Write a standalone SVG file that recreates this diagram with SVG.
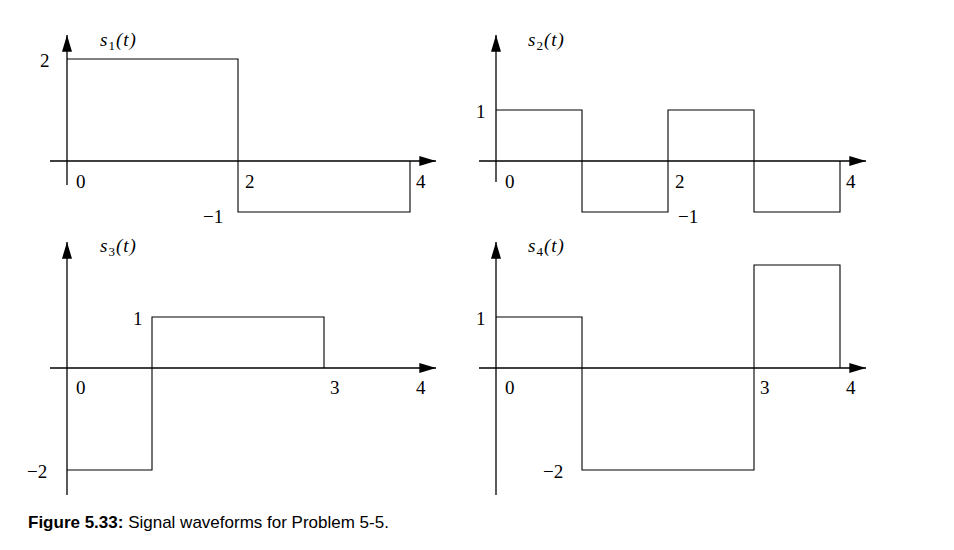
<svg xmlns="http://www.w3.org/2000/svg" width="954" height="550" viewBox="0 0 954 550">
<defs><marker id="ar" viewBox="0 0 10 6" refX="10" refY="3" markerWidth="22" markerHeight="10" markerUnits="userSpaceOnUse" orient="auto"><path d="M0,0 L10,3 L0,6 Z" fill="#000"/></marker></defs>
<style>
.ax{stroke:#000;stroke-width:1.3;fill:none}
.w{stroke:#000;stroke-width:1.1;fill:none}
text{font-family:"Liberation Serif",serif;font-size:19px;fill:#000}
.it{font-style:italic;letter-spacing:1px}
.sub{font-style:normal;font-size:13px}
.cap{font-family:"Liberation Sans",sans-serif;font-size:17px}
</style>
<rect width="954" height="550" fill="#fff"/>
<g id="connectors">
<line class="ax" x1="67" y1="185" x2="67" y2="35" marker-end="url(#ar)"/>
<line class="ax" x1="50" y1="161" x2="436" y2="161" marker-end="url(#ar)"/>
<line class="ax" x1="496" y1="182" x2="496" y2="35" marker-end="url(#ar)"/>
<line class="ax" x1="479" y1="161" x2="866" y2="161" marker-end="url(#ar)"/>
<line class="ax" x1="67" y1="495" x2="67" y2="242" marker-end="url(#ar)"/>
<line class="ax" x1="50" y1="368" x2="436" y2="368" marker-end="url(#ar)"/>
<line class="ax" x1="496" y1="495" x2="496" y2="242" marker-end="url(#ar)"/>
<line class="ax" x1="479" y1="368" x2="866" y2="368" marker-end="url(#ar)"/>
</g>
<g id="s1"><polyline class="w" points="67,59 238,59 238,212 410,212 410,161"/>
<text class="it" x="100" y="46">s<tspan class="sub" dy="4">1</tspan><tspan dy="-4">(t)</tspan></text>
<text x="40" y="67">2</text><text x="76" y="188">0</text><text x="245" y="188">2</text><text x="416" y="188">4</text><text x="203" y="223">−1</text></g>
<g id="s2"><polyline class="w" points="496,110 582,110 582,212 668,212 668,110 754,110 754,212 840,212 840,161"/>
<text class="it" x="528" y="46">s<tspan class="sub" dy="4">2</tspan><tspan dy="-4">(t)</tspan></text>
<text x="476" y="118">1</text><text x="505" y="188">0</text><text x="675" y="188">2</text><text x="846" y="188">4</text><text x="678" y="223">−1</text></g>
<g id="s3"><polyline class="w" points="67,470 152,470 152,317 324,317 324,368"/>
<text class="it" x="100" y="252">s<tspan class="sub" dy="4">3</tspan><tspan dy="-4">(t)</tspan></text>
<text x="133" y="325">1</text><text x="76" y="394">0</text><text x="330" y="394">3</text><text x="416" y="394">4</text><text x="27" y="478">−2</text></g>
<g id="s4"><polyline class="w" points="496,317 582,317 582,470 754,470 754,265 840,265 840,368"/>
<text class="it" x="528" y="252">s<tspan class="sub" dy="4">4</tspan><tspan dy="-4">(t)</tspan></text>
<text x="476" y="325">1</text><text x="505" y="394">0</text><text x="760" y="394">3</text><text x="846" y="394">4</text><text x="543" y="478">−2</text></g>
<text class="cap" x="28" y="528"><tspan font-weight="bold">Figure 5.33:</tspan> Signal waveforms for Problem 5-5.</text>
</svg>
